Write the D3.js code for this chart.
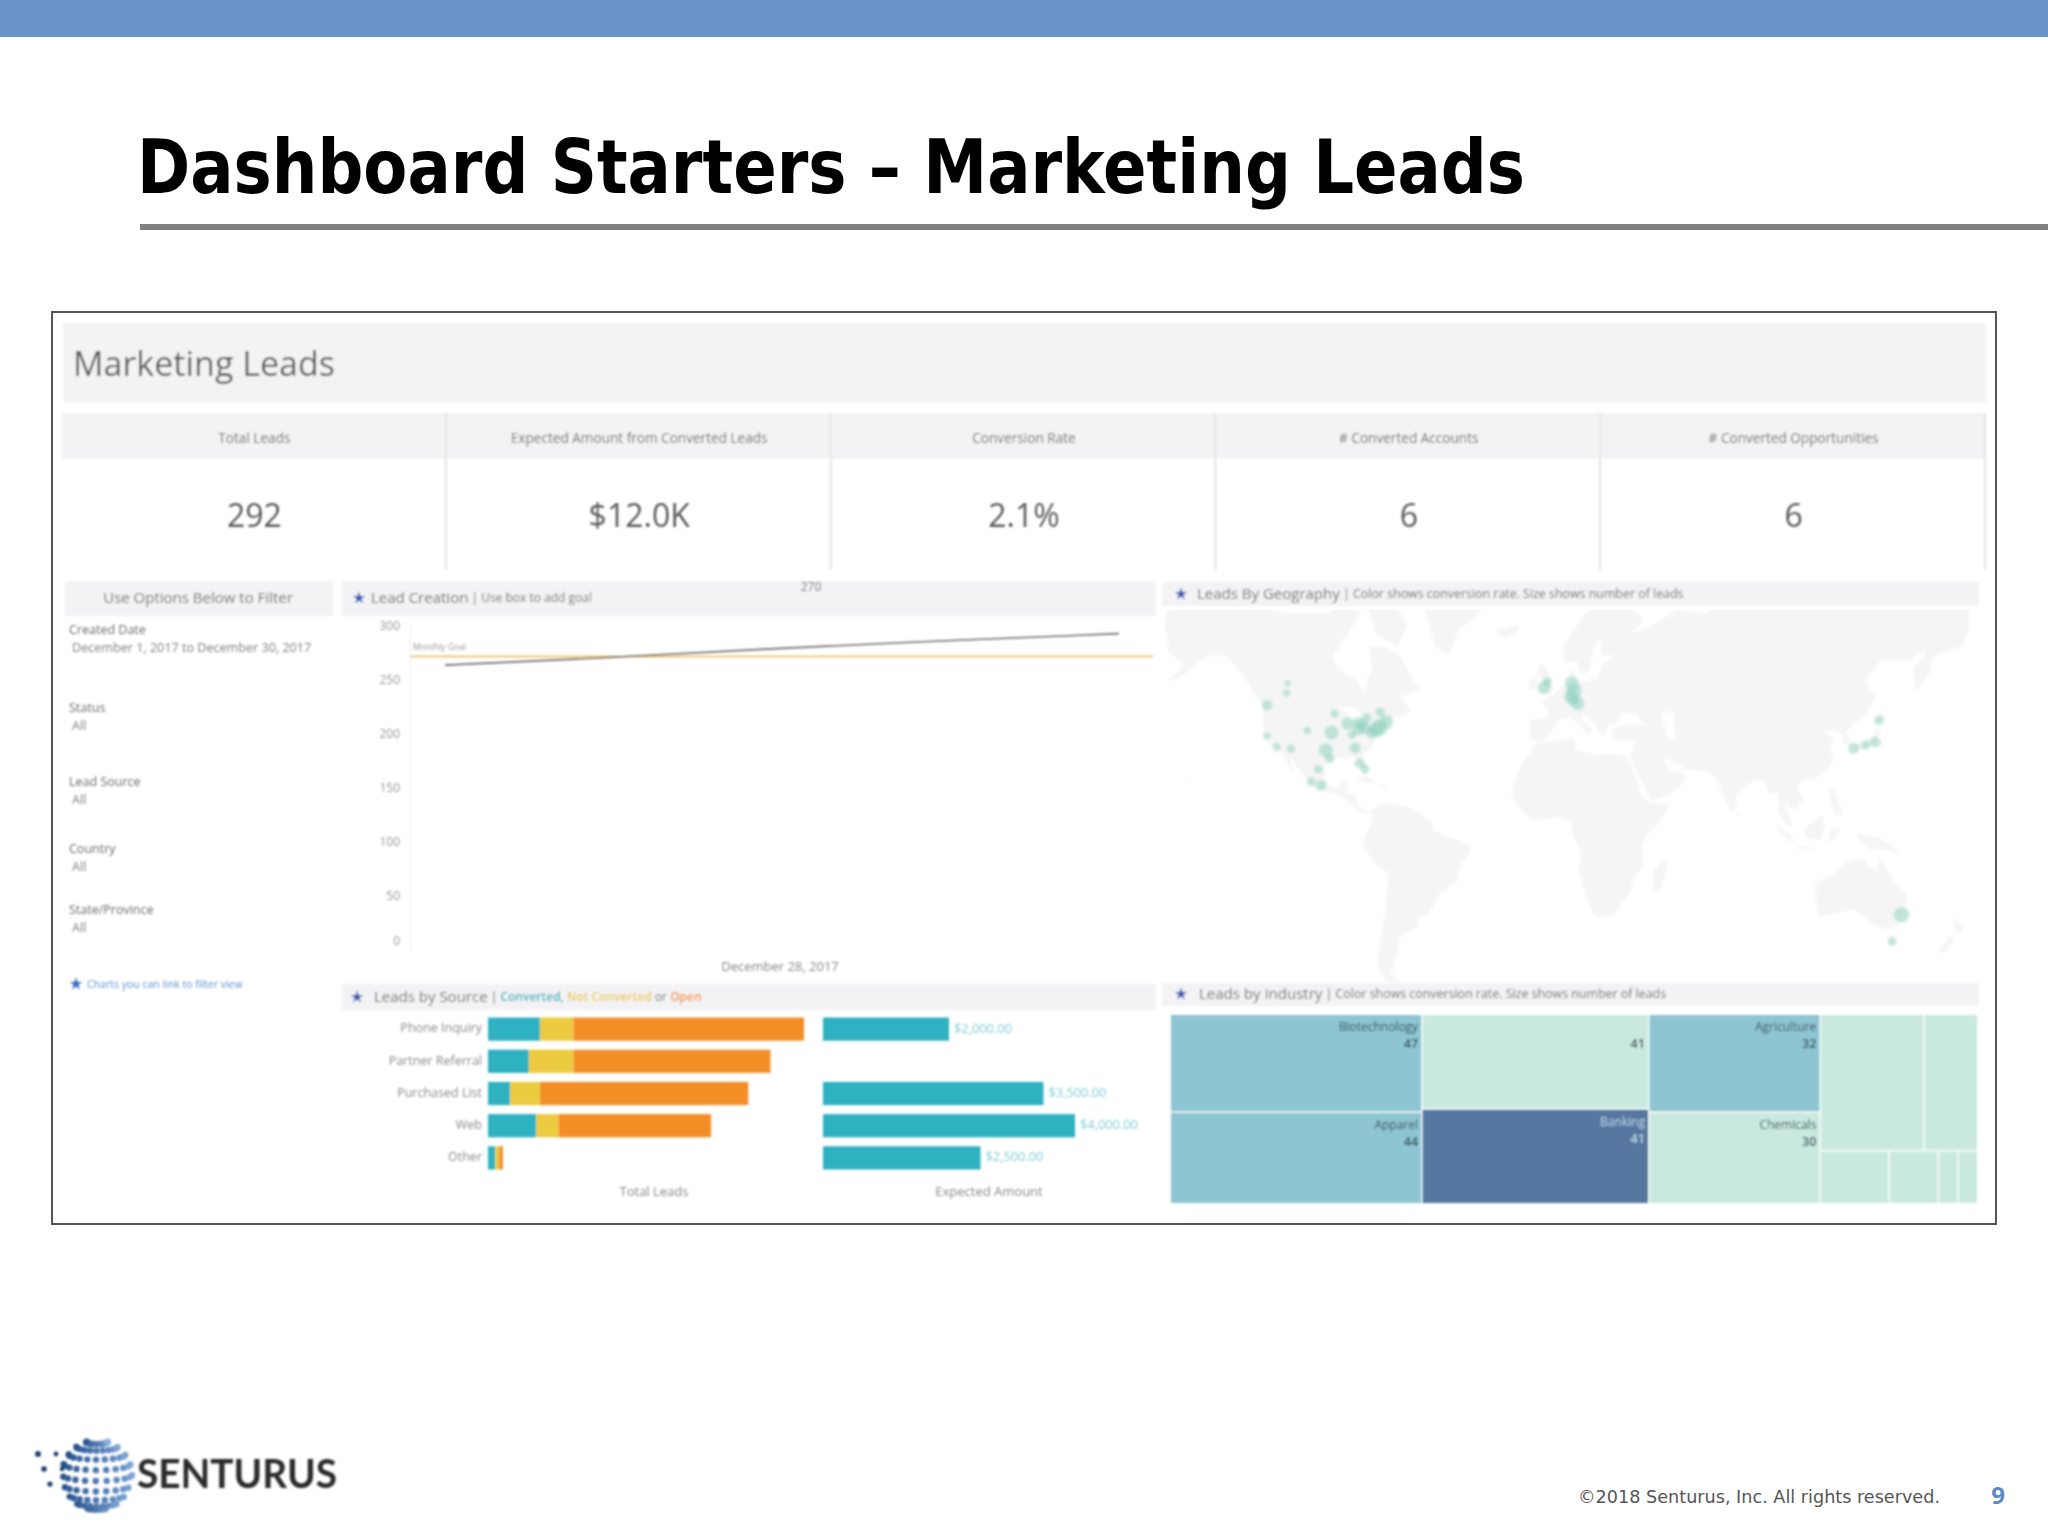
<!DOCTYPE html>
<html>
<head>
<meta charset="utf-8">
<title>Dashboard Starters</title>
<script src="https://cdn.jsdelivr.net/npm/d3@7"></script>
<style>
  html, body { margin: 0; padding: 0; background: #fff; }
  svg { display: block; }
  text { font-family: "Open Sans", sans-serif; }
</style>
</head>
<body>
<script>
'use strict';

var kpiLabels = ['Total Leads', 'Expected Amount from Converted Leads', 'Conversion Rate', '# Converted Accounts', '# Converted Opportunities'];
var kpiValues = ['292', '$12.0K', '2.1%', '6', '6'];

var filterLabels = ['Created Date', 'Status', 'Lead Source', 'Country', 'State/Province'];
var filterValues = ['December 1, 2017 to December 30, 2017', 'All', 'All', 'All', 'All'];

var leadTicks = [0, 50, 100, 150, 200, 250, 300];
var leadDays = [1, 8, 15, 22, 30];
var leadTotals = [263, 270, 278, 285, 292];
var leadGoal = 270;

var sources = ['Phone Inquiry', 'Partner Referral', 'Purchased List', 'Web', 'Other'];
var convertedLeads = [14, 11, 6, 13, 2];
var notConvertedLeads = [9, 12, 8, 6, 1];
var openLeads = [62, 53, 56, 41, 1];
var expectedAmounts = [2000, null, 3500, 4000, 2500];

// columns of the treemap, top to bottom, the last one split into two rows
var industryNames = ['Biotechnology', 'Apparel', '', 'Banking', 'Agriculture', 'Chemicals'];
var industryLeads = [47, 44, 41, 41, 32, 30];
var industryConverted = [1, 1, 0, 2, 1, 0];
var smallIndustryTop = [27, 14];
var smallIndustryBottom = [7, 5, 2, 2];

var cityLon = [-122.3, -122.4, -118.2, -112, -105, -97, -95.4, -94.6, -87.6, -93.3, -84.4, -80.2, -82.5, -74, -71, -75.2, -77, -83, -79.4, -73.6, -114, -113.5, -99.1, -103.3, -100.3, -80, -83, -85.7, -81.7, -3, -1.5, 9, 10, 11.5, 8.7, 9.5, 141.3, 139.7, 135.5, 130.4, 151, 147];
var cityLat = [47.6, 37.8, 34, 33.4, 39.7, 32.8, 29.8, 39, 41.9, 45, 33.7, 25.8, 28, 40.7, 42.4, 40, 38.9, 42.3, 43.7, 45.5, 51, 53.5, 19.4, 20.7, 25.7, 40.4, 40, 38.2, 41.5, 52.5, 54, 53.5, 51.5, 48.1, 50.1, 49, 43, 35.7, 34.7, 33.6, -33.9, -42.9];
var cityLeads = [8, 4, 5, 5, 4, 14, 6, 14, 12, 5, 9, 6, 7, 20, 14, 14, 10, 9, 7, 6, 4, 3, 8, 5, 5, 10, 10, 5, 8, 12, 5, 14, 16, 12, 14, 10, 6, 8, 6, 9, 16, 5];

var landNorthAmerica = [[-168,66],[-162,70],[-156,71],[-141,70],[-128,70],[-115,68],[-108,68],[-95,68],[-94,72],[-85,70],[-82,68],[-88,64],[-94,60],[-92,57],[-85,55],[-82,53],[-80,51],[-79,55],[-77,57],[-78,62],[-72,62],[-65,60],[-60,55],[-56,52],[-65,50],[-60,46],[-65,44],[-70,43],[-71,41.5],[-74,40.5],[-76,37],[-76,35],[-81,31],[-80,26],[-81,25],[-82.5,28],[-84,30],[-89,30],[-94,29.5],[-97,28],[-97.5,22],[-95,18.5],[-91,18.5],[-90,21],[-87,21],[-88,16],[-84,15.5],[-83.5,11],[-80,9],[-77.5,8.5],[-80,7.5],[-85,10],[-88,13],[-94,16],[-100,17],[-105,20],[-106,23],[-109,26],[-113,31],[-110,23],[-112,25],[-115,30],[-117,33],[-121,35],[-124,40],[-124,48],[-128,51],[-133,56],[-140,60],[-148,60],[-153,58],[-160,55],[-165,54],[-158,58],[-165,61],[-165,64]];
var landSouthAmerica = [[-78,8.5],[-72,12],[-62,10.5],[-52,5],[-50,0],[-44,-2.5],[-35,-6],[-35,-9],[-39,-15],[-41,-22],[-48,-26],[-53,-34],[-58,-35],[-57,-38],[-65,-41],[-66,-46],[-69,-52],[-65,-55],[-71,-54],[-75,-50],[-73,-40],[-71,-30],[-70,-18],[-76,-14],[-81,-6],[-80,-2],[-78,2],[-77,7]];
var landAfrica = [[-6,35.5],[10,37],[11,33],[20,31],[25,31.5],[32,31],[34,28],[37,21],[39,15],[43,11.5],[51,12],[48,5],[41,-2],[39,-6],[40,-15],[35,-20],[35,-24],[32,-28],[27,-34],[20,-35],[18,-33],[15,-27],[12,-17],[13,-9],[9,-1],[9,4],[4,6],[-4,5],[-8,4.5],[-13,9],[-17,14.5],[-16,20],[-13,27],[-9,32]];
var landEurasia = [[-9,37],[-9,43],[-2,43.5],[-1,46],[-4.5,48.5],[2,51],[8,54],[8,57],[11,56],[10,54],[14,54],[20,54.5],[22,58],[28,60],[22,60],[21,64],[24,66],[18,61],[17,57],[13,55.5],[11,59],[6,58],[5,62],[13,67],[20,70],[28,71],[40,67],[35,64.5],[44,66],[54,68.5],[68,68],[70,73],[80,73],[100,77],[112,74],[130,71],[140,73],[160,70],[180,69],[180,65],[177,62],[165,60],[163,56],[157,51],[156,57],[163,62],[155,59],[142,59],[135,54],[140,50],[135,44],[130,42],[127,39],[129,36],[126,34.5],[126,38],[122,40],[118,39],[122,37],[120,33],[122,30],[119,25],[113,22],[108,21.5],[106,19],[109,13],[105,9],[100,13],[103,5],[104,1.5],[101,3],[98,8],[98,16],[94,16],[92,21],[87,21],[80,15],[80,10],[77.5,8],[73,18],[72,21],[67,25],[57,25.5],[56,27],[50,30],[48,30],[51,25],[56,25],[59,22],[52,16],[43,12.5],[39,21],[35,28],[34.5,31],[36,36],[30,36],[27,37],[26,40],[29,41],[35,42],[41,41],[37,45],[34,45],[31,46],[28,42],[24,41],[23,37.5],[20,40],[19,42],[14,45],[12.5,44],[18,40],[16,38],[12,42],[8,44],[3,43],[0,39],[-2,37],[-5,36]];
var landIslands = [
  [[-80,73],[-70,71],[-62,66],[-66,62],[-75,64],[-80,70]],
  [[-117,70],[-105,69],[-102,72],[-115,73]],
  [[-55,82],[-30,83],[-20,75],[-25,70],[-40,65],[-44,60],[-50,62],[-54,68],[-60,76],[-70,78]],
  [[-85,22],[-80,23],[-74,20],[-78,20]],
  [[-74,19.5],[-68.5,18.5],[-72,18]],
  [[49,-12],[50,-16],[47,-25],[44,-25],[44,-17]],
  [[-5,50],[1,51.5],[0,54],[-2,57.5],[-5,58.5],[-6,56],[-3,54],[-5,52]],
  [[-10,52],[-6,52],[-6,55],[-9,54.5]],
  [[-24,65],[-14,66],[-14,64.5],[-20,63.5]],
  [[130,33],[135,33.5],[140,35],[142,39],[141,41],[139,38],[136,36],[132,35]],
  [[140,42],[145,43.5],[142,45.5]],
  [[95,5],[104,-3],[106,-6],[101,-3]],
  [[105,-6.5],[114,-7.5],[114,-8.5],[106,-7.5]],
  [[109,1],[117,7],[118,1],[116,-4],[110,-3]],
  [[119,-5],[121,1],[125,1],[122,-4]],
  [[120,18],[122,18],[124,12],[126,7],[122,7],[120,14]],
  [[131,-1],[141,-3],[147,-6],[150,-10],[144,-8],[138,-8],[133,-4]],
  [[114,-22],[122,-18],[126,-14],[131,-12],[136,-12],[136,-15],[140,-17],[142,-11],[146,-19],[153,-26],[153,-32],[150,-37],[146,-39],[140,-38],[136,-35],[130,-32],[124,-33],[115,-34.5],[114,-28]],
  [[145,-41],[148,-41],[147,-43.5],[146,-43]],
  [[173,-35],[178,-38],[175,-41],[174,-39]],
  [[172,-41],[174,-42],[170,-46.5],[167,-46]],
  [[80,9.5],[82,7],[80.5,6]],
  [[52,71],[58,74],[68,77],[60,76],[54,73]],
  [[-156,21],[-155,20],[-156,19]]
];
var lakeCaspian = [[47,45],[53,46],[53,40],[54,37],[50,37],[49,41]];
var lakesAmerica = [[-92,47],[-85,47],[-82,45],[-80,43],[-83,42],[-87,42],[-87,45]];

var grey = '#6a6a6a';
var panel = '#f3f3f5';
var teal = '#2fb1c1';
var yellow = '#eccb3f';
var orange = '#f38e27';

var svg = d3.select('body').append('svg')
  .attr('width', 2048)
  .attr('height', 1536);

var defs = svg.append('defs');
defs.append('filter').attr('id', 'soft').append('feGaussianBlur').attr('stdDeviation', 0.8);
defs.append('filter').attr('id', 'softer').append('feGaussianBlur').attr('stdDeviation', 1.6);
defs.append('clipPath').attr('id', 'mapClip').append('rect')
  .attr('x', 1165).attr('y', 610).attr('width', 816).attr('height', 378);

function drawPanel (g, x, y, w, h) {
  g.append('rect').attr('x', x).attr('y', y).attr('width', w).attr('height', h).attr('fill', panel);
}

function drawLabel (g, x, y, str, size, anchor, color) {
  return g.append('text')
    .attr('x', x)
    .attr('y', y)
    .attr('text-anchor', anchor || 'start')
    .attr('dominant-baseline', 'middle')
    .attr('font-size', size)
    .attr('fill', color || grey)
    .text(str);
}

function drawStar (g, x, y, color) {
  g.append('path')
    .attr('transform', 'translate(' + x + ',' + y + ')')
    .attr('d', d3.symbol(d3.symbolStar, 50)())
    .attr('fill', color || '#3a5cb4');
}

// slide furniture
svg.append('rect').attr('width', 2048).attr('height', 37).attr('fill', '#6a91c8');
svg.append('text')
  .attr('x', 137)
  .attr('y', 193)
  .attr('font-size', 75)
  .attr('font-weight', 'bold')
  .attr('fill', '#000')
  .style('font-family', '"DejaVu Sans", sans-serif')
  .attr('textLength', 1388)
  .attr('lengthAdjust', 'spacingAndGlyphs')
  .text('Dashboard Starters \u2013 Marketing Leads');
svg.append('rect').attr('x', 140).attr('y', 224).attr('width', 1908).attr('height', 6).attr('fill', '#808080');
svg.append('rect')
  .attr('x', 52).attr('y', 312).attr('width', 1944).attr('height', 912)
  .attr('fill', '#fff').attr('stroke', '#555').attr('stroke-width', 2);

// map goes first so that the title strips sit on top of it
var map = svg.append('g').attr('clip-path', 'url(#mapClip)');
var mapInner = map.append('g').attr('filter', 'url(#softer)');
var projection = d3.geoMercator().scale(133).translate([1551, 831]);
var landLine = d3.line()
  .x(function (d) { return projection(d)[0]; })
  .y(function (d) { return projection(d)[1]; })
  .curve(d3.curveLinearClosed);

[landNorthAmerica, landSouthAmerica, landAfrica, landEurasia].concat(landIslands).forEach(function (shape) {
  mapInner.append('path').attr('d', landLine(shape)).attr('fill', '#f5f5f6');
});
[lakeCaspian, lakesAmerica].forEach(function (shape) {
  mapInner.append('path').attr('d', landLine(shape)).attr('fill', '#fff');
});

var cityR = d3.scaleSqrt().domain([0, 20]).range([0, 8.5]);
mapInner.selectAll('circle')
  .data(cityLeads)
  .join('circle')
  .attr('cx', function (d, i) { return projection([cityLon[i], cityLat[i]])[0]; })
  .attr('cy', function (d, i) { return projection([cityLon[i], cityLat[i]])[1]; })
  .attr('r', function (d) { return cityR(d); })
  .attr('fill', '#8fd2bf')
  .attr('fill-opacity', 0.55);

var board = svg.append('g').attr('filter', 'url(#soft)');

drawPanel(board, 63, 323, 1923, 79);
drawLabel(board, 73, 367, 'Marketing Leads', 34, 'start', '#5a5a5a');

// kpi strip
var kpiX = d3.scaleBand().domain(kpiLabels).range([62, 1986]);
kpiLabels.forEach(function (label, i) {
  var x = kpiX(label);
  drawPanel(board, x, 413, kpiX.bandwidth() - 2, 46);
  board.append('rect').attr('x', x + kpiX.bandwidth() - 2).attr('y', 413).attr('width', 2).attr('height', 157).attr('fill', '#e4e4e8');
  drawLabel(board, x + kpiX.bandwidth() / 2, 439, label, 13.6, 'middle');
  drawLabel(board, x + kpiX.bandwidth() / 2, 518, kpiValues[i], 32, 'middle', '#5a5a5a');
});

// filters
drawPanel(board, 65, 581, 268, 35);
drawLabel(board, 198, 599, 'Use Options Below to Filter', 15, 'middle');
var filterY = [[631, 649], [709, 727], [783, 801], [850, 868], [911, 929]];
filterLabels.forEach(function (label, i) {
  drawLabel(board, 69, filterY[i][0], label, 12.5);
  drawLabel(board, 72, filterY[i][1], filterValues[i], 12.6, 'start', '#808080');
});
drawStar(board, 76, 984, '#3a6cc4');
drawLabel(board, 87, 985, 'Charts you can link to filter view', 10.5, 'start', '#5b8fd6');

// lead creation
drawPanel(board, 342, 581, 814, 35);
drawStar(board, 359, 598);
var leadTitle = drawLabel(board, 371, 599, 'Lead Creation', 15);
leadTitle.append('tspan').attr('font-size', 12).text(' | Use box to add goal');
drawLabel(board, 811, 588, leadGoal, 12, 'middle');

var leadX = d3.scaleLinear().domain([1, 30]).range([445, 1119]);
var leadY = d3.scaleLinear().domain([0, 300]).range([950, 625]);

var leadAxis = board.append('g')
  .attr('transform', 'translate(410,0)')
  .call(d3.axisLeft(leadY).tickValues(leadTicks).tickSize(0).tickPadding(10));
leadAxis.select('.domain').attr('stroke', '#ececec');
leadAxis.selectAll('text')
  .attr('font-size', 12)
  .attr('fill', '#999')
  .style('font-family', '"Open Sans", sans-serif')
  .attr('dy', function (d) { return d === 0 ? -6 : 4; });

board.append('line')
  .attr('x1', 411).attr('x2', 1153)
  .attr('y1', leadY(leadGoal) - 1).attr('y2', leadY(leadGoal) - 1)
  .attr('stroke', '#eab64f').attr('stroke-width', 1.6);
drawLabel(board, 413, 648, 'Monthly Goal', 8.5, 'start', '#999');
board.append('path')
  .datum(leadDays)
  .attr('fill', 'none')
  .attr('stroke', '#6e6e6e')
  .attr('stroke-width', 1.6)
  .attr('d', d3.line()
    .x(function (d) { return leadX(d); })
    .y(function (d, i) { return leadY(leadTotals[i]); }));
drawLabel(board, 780, 968, 'December 28, 2017', 13, 'middle', '#888');

// leads by source
drawPanel(board, 342, 984, 814, 26);
drawStar(board, 357, 997);
var sourceTitle = drawLabel(board, 374, 998, 'Leads by Source', 15);
sourceTitle.append('tspan').attr('font-size', 12).text(' | ');
sourceTitle.append('tspan').attr('font-size', 12).attr('fill', teal).attr('font-weight', 600).text('Converted, ');
sourceTitle.append('tspan').attr('font-size', 12).attr('fill', yellow).attr('font-weight', 600).text('Not Converted');
sourceTitle.append('tspan').attr('font-size', 12).text(' or ');
sourceTitle.append('tspan').attr('font-size', 12).attr('fill', orange).attr('font-weight', 600).text('Open');

var sourceY = d3.scaleBand().domain(sources).range([1013, 1174]).paddingInner(0.28).paddingOuter(0.14);
var totalX = d3.scaleLinear().domain([0, 85]).range([488, 804]);
var amountX = d3.scaleLinear().domain([0, 4000]).range([823, 1075]);

var stack = d3.stack().keys([0, 1, 2]).value(function (d, key) { return d[key]; });
var sourceRows = d3.zip(convertedLeads, notConvertedLeads, openLeads);
board.selectAll('.leadStack')
  .data(stack(sourceRows))
  .join('g')
  .attr('fill', function (d, i) { return [teal, yellow, orange][i]; })
  .selectAll('rect')
  .data(function (d) { return d; })
  .join('rect')
  .attr('x', function (d) { return totalX(d[0]); })
  .attr('width', function (d) { return totalX(d[1]) - totalX(d[0]); })
  .attr('y', function (d, i) { return sourceY(sources[i]); })
  .attr('height', sourceY.bandwidth());

sources.forEach(function (source, i) {
  var y = sourceY(source) + sourceY.bandwidth() / 2;
  drawLabel(board, 482, y, source, 12.5, 'end', '#8a8a8a');
  if (expectedAmounts[i] === null) return;
  board.append('rect')
    .attr('x', amountX(0))
    .attr('y', sourceY(source))
    .attr('width', amountX(expectedAmounts[i]) - amountX(0))
    .attr('height', sourceY.bandwidth())
    .attr('fill', teal);
  drawLabel(board, amountX(expectedAmounts[i]) + 5, y, d3.format('$,.2f')(expectedAmounts[i]), 12.8, 'start', '#7fcfd6');
});
drawLabel(board, 654, 1193, 'Total Leads', 13, 'middle', '#888');
drawLabel(board, 989, 1193, 'Expected Amount', 13, 'middle', '#888');

drawPanel(board, 1162, 582, 817, 24);
drawStar(board, 1181, 594);
var geoTitle = drawLabel(board, 1197, 595, 'Leads By Geography', 15);
geoTitle.append('tspan').attr('font-size', 12.4).text(' | Color shows conversion rate. Size shows number of leads');

// leads by industry
drawPanel(board, 1162, 983, 817, 23);
drawStar(board, 1181, 994);
var industryTitle = drawLabel(board, 1199, 995, 'Leads by Industry', 15);
industryTitle.append('tspan').attr('font-size', 12.4).text(' | Color shows conversion rate. Size shows number of leads');

function industryLeaf (i) {
  return {name: industryNames[i], value: industryLeads[i], converted: industryConverted[i]};
}

function smallLeaf (value) {
  return {name: '', value: value, converted: 0, small: true};
}

var industryRoot = d3.hierarchy({children: [
  {children: [industryLeaf(0), industryLeaf(1)]},
  {children: [industryLeaf(2), industryLeaf(3)]},
  {children: [industryLeaf(4), industryLeaf(5)]},
  {children: [
    {children: smallIndustryTop.map(smallLeaf)},
    {children: smallIndustryBottom.map(smallLeaf)}
  ]}
]}).sum(function (d) { return d.value; });

d3.treemap()
  .tile(d3.treemapSliceDice)
  .size([806, 188])
  .paddingInner(1.5)(industryRoot);

var industryColor = d3.scaleOrdinal().domain([0, 1, 2]).range(['#c9e9df', '#8ec5d2', '#56779f']);
var cell = board.append('g')
  .attr('transform', 'translate(1171,1015)')
  .selectAll('g')
  .data(industryRoot.leaves())
  .join('g');
cell.append('rect')
  .attr('x', function (d) { return d.x0; })
  .attr('y', function (d) { return d.y0; })
  .attr('width', function (d) { return d.x1 - d.x0; })
  .attr('height', function (d) { return d.y1 - d.y0; })
  .attr('fill', function (d) { return industryColor(d.data.converted); });
cell.each(function (d) {
  if (d.data.small) return;
  var color = d.data.converted === 2 ? '#b9d3e6' : '#2c4650';
  var g = d3.select(this);
  if (d.data.name) drawLabel(g, d.x1 - 3, d.y0 + 13, d.data.name, 12, 'end', color);
  drawLabel(g, d.x1 - 3, d.y0 + 30, d.data.value, 12.5, 'end', color).attr('font-weight', 600);
});

// logo
var logo = svg.append('g').attr('filter', 'url(#soft)');
var globe = d3.geoOrthographic().scale(35).translate([97, 1475]).rotate([-20, -10]).clipAngle(90);
var globeDots = [];
d3.range(-72, 73, 18).forEach(function (lat) {
  d3.range(-180, 180, 18).forEach(function (lon) {
    globeDots.push([lon, lat]);
  });
});
logo.selectAll('.dot')
  .data(globeDots.filter(function (d) { return d3.geoDistance(d, [20, 10]) < Math.PI / 2; }))
  .join('circle')
  .attr('cx', function (d) { return globe(d)[0]; })
  .attr('cy', function (d) { return globe(d)[1]; })
  .attr('r', 3.2)
  .attr('fill', function (d) { return d3.interpolateRgb('#1f4a86', '#7fa6d8')((d[0] + 70) / 180); });
d3.range(5).forEach(function (i) {
  logo.append('circle')
    .attr('cx', 38 + i * 6)
    .attr('cy', 1454 + (i % 3) * 15)
    .attr('r', 3 - i * 0.2)
    .attr('fill', '#1f3f6e');
});
logo.append('text')
  .attr('x', 137)
  .attr('y', 1488)
  .attr('font-size', 40)
  .attr('font-weight', 'bold')
  .attr('fill', '#2a2a2a')
  .attr('textLength', 200)
  .attr('lengthAdjust', 'spacingAndGlyphs')
  .style('font-family', 'Lato, sans-serif')
  .text('SENTURUS');

svg.append('text')
  .attr('x', 1578)
  .attr('y', 1503)
  .attr('font-size', 18)
  .attr('fill', '#555')
  .style('font-family', '"DejaVu Sans", sans-serif')
  .attr('textLength', 362)
  .attr('lengthAdjust', 'spacingAndGlyphs')
  .text('\u00a92018 Senturus, Inc. All rights reserved.');
svg.append('text')
  .attr('x', 1998)
  .attr('y', 1504)
  .attr('text-anchor', 'middle')
  .attr('font-size', 24)
  .attr('font-weight', 'bold')
  .attr('fill', '#5b8ac6')
  .text('9');
</script>
</body>
</html>
